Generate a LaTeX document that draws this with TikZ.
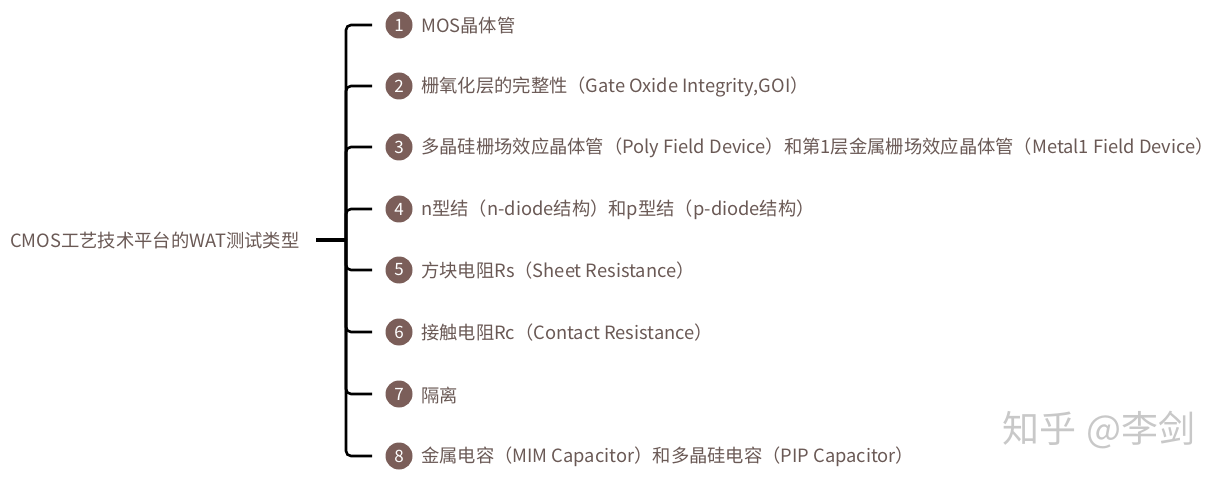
\documentclass[tikz,border=0pt]{standalone}
\usepackage{fontspec}
\setmainfont{Noto Sans CJK SC}
\definecolor{numfill}{HTML}{7B5E59}
\definecolor{txt}{HTML}{6A5955}
\definecolor{wm}{HTML}{C8C8C8}
\tikzset{
  itemtxt/.style={anchor=west, text=txt, font=\fontsize{18.3}{20}\selectfont, inner sep=0pt},
  numc/.style={circle, fill=numfill, text=white, minimum size=27pt, inner sep=0pt, font=\fontsize{17}{18}\selectfont},
  branch/.style={line width=2.6pt, rounded corners=5pt},
}
\begin{document}
\begin{tikzpicture}[x=1pt,y=1pt]
\useasboundingbox (0,0) rectangle (1229,480);
\node[itemtxt] (root) at (10,239) {CMOS工艺技术平台的WAT测试类型};
\coordinate (s0) at (316,240);
\coordinate (J) at (346,240);
\draw[line width=3.5pt] (s0) -- (J);
\foreach \i/\y/\t in {
 1/25/{MOS晶体管},
 2/86/{栅氧化层的完整性（Gate Oxide Integrity,GOI）},
 3/147/{多晶硅栅场效应晶体管（Poly Field Device）和第1层金属栅场效应晶体管（Metal1 Field Device）},
 4/209/{n型结（n-diode结构）和p型结（p-diode结构）},
 5/270/{方块电阻Rs（Sheet Resistance）},
 6/332/{接触电阻Rc（Contact Resistance）},
 7/394/{隔离},
 8/456/{金属电容（MIM Capacitor）和多晶硅电容（PIP Capacitor）}}{
  \node[numc] (n\i) at (399,480-\y) {\i};
  \node[itemtxt] (t\i) at (421,479-\y) {\t};
  \coordinate (b\i) at (372,480-\y);
  \draw[branch] (J) |- (b\i);
}
\node[anchor=west, text=wm, font=\fontsize{37}{39}\selectfont, inner sep=0pt] (wmk) at (1002,50) {知乎\hspace{10pt}@李剑};
\end{tikzpicture}
\end{document}
